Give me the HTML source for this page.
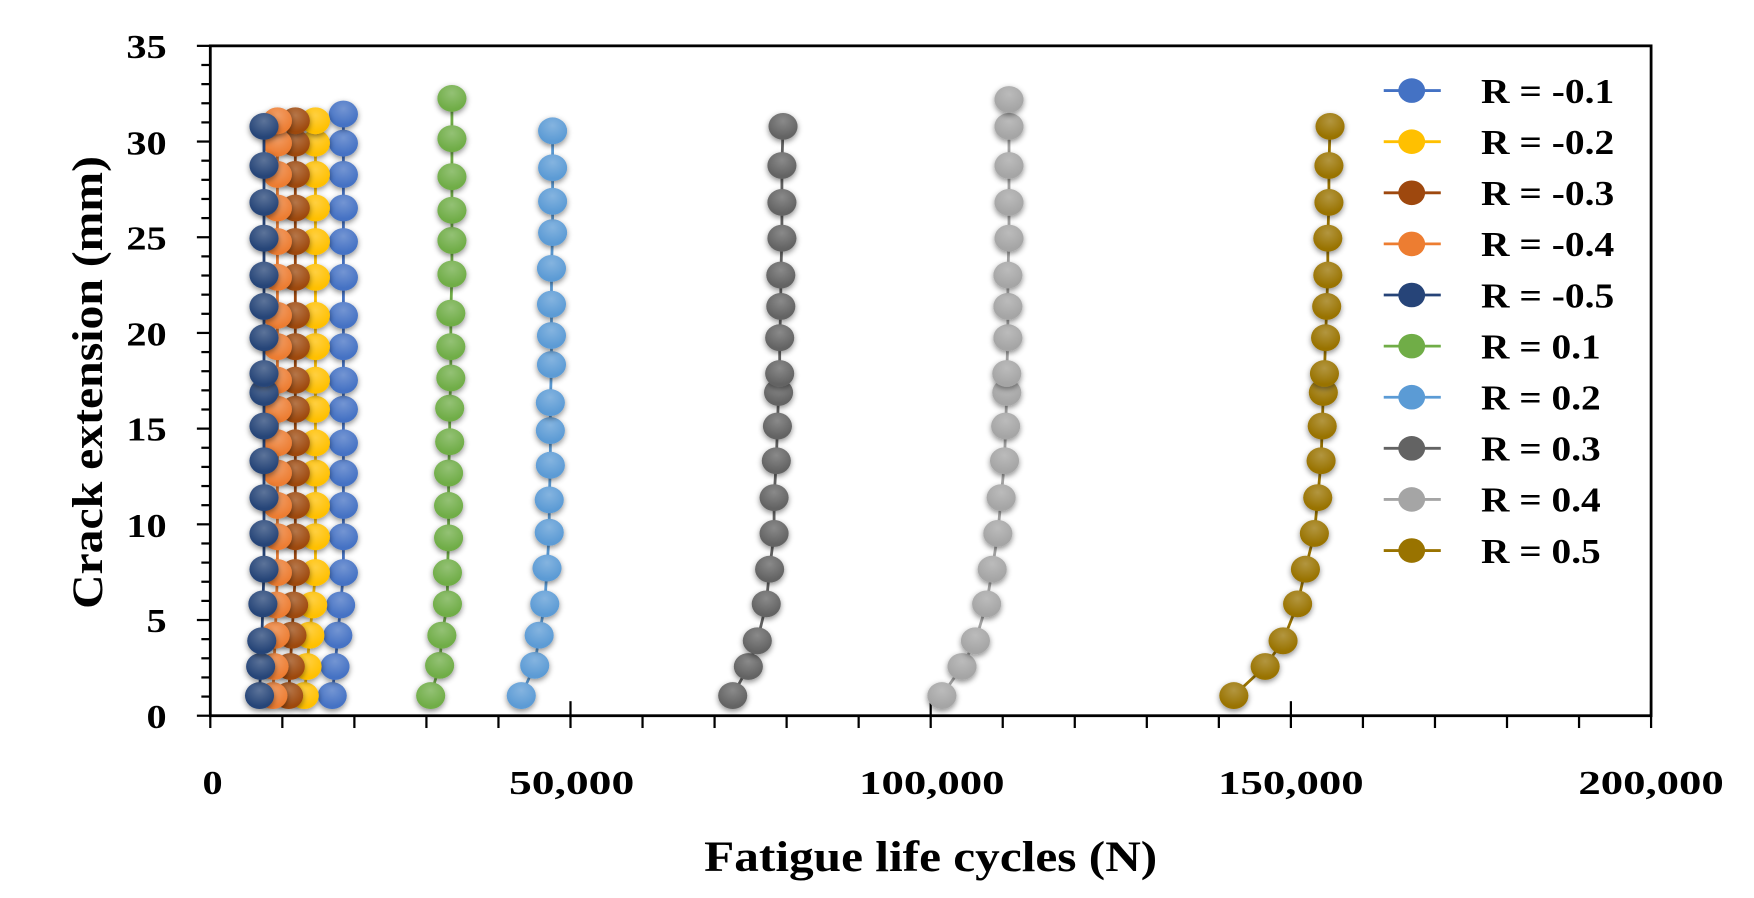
<!DOCTYPE html>
<html><head><meta charset="utf-8"><style>
html,body{margin:0;padding:0;background:#fff;}
svg{display:block;}
text{font-family:"Liberation Serif",serif;font-weight:bold;fill:#000;}
</style></head><body>
<svg id="s" width="1754" height="898" viewBox="0 0 1568 803" preserveAspectRatio="none" xmlns="http://www.w3.org/2000/svg">
<defs>
<filter id="sh" x="-50%" y="-50%" width="200%" height="200%"><feDropShadow dx="0" dy="2" stdDeviation="2.5" flood-color="#000" flood-opacity="0.45"/></filter>
<radialGradient id="hl" cx="50%" cy="30%" r="60%"><stop offset="0" stop-color="#fff" stop-opacity="0.25"/><stop offset="1" stop-color="#fff" stop-opacity="0"/></radialGradient>
</defs>
<rect x="188" y="41" width="1288" height="599" fill="none" stroke="#000" stroke-width="2.5"/>
<g id="ticks" stroke="#000" stroke-width="2"></g>
<g id="series"></g>
<g id="legend"></g>
<g font-size="30" text-anchor="end" lengthAdjust="spacingAndGlyphs">
<text x="149" y="651" textLength="18" lengthAdjust="spacingAndGlyphs">0</text>
<text x="149" y="565" textLength="18" lengthAdjust="spacingAndGlyphs">5</text>
<text x="149" y="480" textLength="36" lengthAdjust="spacingAndGlyphs">10</text>
<text x="149" y="394" textLength="36" lengthAdjust="spacingAndGlyphs">15</text>
<text x="149" y="309" textLength="36" lengthAdjust="spacingAndGlyphs">20</text>
<text x="149" y="223" textLength="36" lengthAdjust="spacingAndGlyphs">25</text>
<text x="149" y="138" textLength="36" lengthAdjust="spacingAndGlyphs">30</text>
<text x="149" y="52" textLength="36" lengthAdjust="spacingAndGlyphs">35</text>
</g>
<g font-size="30" text-anchor="middle">
<text x="190" y="710" textLength="18" lengthAdjust="spacingAndGlyphs">0</text>
<text x="511" y="710" textLength="112" lengthAdjust="spacingAndGlyphs">50,000</text>
<text x="833" y="710" textLength="130" lengthAdjust="spacingAndGlyphs">100,000</text>
<text x="1154" y="710" textLength="130" lengthAdjust="spacingAndGlyphs">150,000</text>
<text x="1476" y="710" textLength="130" lengthAdjust="spacingAndGlyphs">200,000</text>
</g>
<text x="832" y="779" font-size="39" text-anchor="middle" textLength="405" lengthAdjust="spacingAndGlyphs">Fatigue life cycles (N)</text>
<text transform="translate(91,342) rotate(-90)" font-size="39" text-anchor="middle" textLength="405" lengthAdjust="spacingAndGlyphs">Crack extension (mm)</text>
</svg>
<script>
var NS="http://www.w3.org/2000/svg";
function el(p,t,a){var e=document.createElementNS(NS,t);for(var k in a)e.setAttribute(k,a[k]);p.appendChild(e);return e;}
var tk=document.getElementById('ticks');
for(var i=0;i<=35;i++){var y=640-i*599/35;el(tk,'line',{x1:(i%5==0?176:180),x2:188,y1:y,y2:y});}
for(var i=0;i<=20;i++){var x=188+i*64.4;el(tk,'line',{x1:x,x2:x,y1:(i%5==0?627:640),y2:651});}
var Y0=[622,596,573,540,509,477,445,412,381,351,334,302,274,246,213,181,148,113];
var Y1=[622,595,568,540,512,481,452,423,395,365,338,310,280,245,215,188,158,124,88];
var Y2=[622,595,568,540,508,476,447,416,385,360,326,300,272,240,208,180,150,117];
var YL=[622,596,568,541,512,480,452,423,396,366,340,310,282,248,216,186,156,128,108];
function lin(ys,b,t){return ys.map(function(y,i){return [b+(t-b)*Math.min(1,i/4),y];});}
function pair(xs,ys){return xs.map(function(x,i){return [x,ys[i]];});}
var S=[
["#4472C4","R = -0.1",lin(YL.slice(0,18).concat([102]),297,307)],
["#FFC000","R = -0.2",lin(YL,272,282)],
["#9E480E","R = -0.3",lin(YL,258,264)],
["#ED7D31","R = -0.4",lin(YL,244,248)],
["#264478","R = -0.5",lin(Y0,232,236)],
["#70AD47","R = 0.1",pair([385,393,395,400,400,401,401,401,402,402,403,403,403,404,404,404,404,404,404],Y1)],
["#5B9BD5","R = 0.2",pair([466,478,482,487,489,491,491,492,492,492,493,493,493,493,494,494,494,494],Y2)],
["#636363","R = 0.3",pair([655,669,677,685,688,692,692,694,695,696,697,697,698,698,699,699,699,700],Y0)],
["#A5A5A5","R = 0.4",pair([842,860,872,882,887,892,895,898,899,900,900,901,901,901,902,902,902,902,902],Y0.concat([89]))],
["#997300","R = 0.5",pair([1103,1131,1147,1160,1167,1175,1178,1181,1182,1183,1184,1185,1186,1187,1187,1188,1188,1189],Y0)]
];
var sg=document.getElementById('series'),lg=document.getElementById('legend');
var order=[9,8,7,6,5,0,1,2,3,4];
order.forEach(function(k){var s=S[k];
 el(sg,'polyline',{points:s[2].map(function(p){return p.join(',')}).join(' '),fill:'none',stroke:s[0],'stroke-width':2.5});
 s[2].forEach(function(p){el(sg,'ellipse',{cx:p[0],cy:p[1],rx:13,ry:12,fill:s[0],filter:'url(#sh)'});el(sg,'ellipse',{cx:p[0],cy:p[1],rx:13,ry:12,fill:'url(#hl)'});});
});
S.forEach(function(s,i){var y=81+i*45.7;
 el(lg,'line',{x1:1237,x2:1288,y1:y,y2:y,stroke:s[0],'stroke-width':2.5});
 el(lg,'ellipse',{cx:1262,cy:y,rx:12,ry:11,fill:s[0]});
 var w=s[1].indexOf('-')>0?119:107;
 var t=el(lg,'text',{x:1324,y:y+11,'font-size':31,textLength:w,lengthAdjust:'spacingAndGlyphs'});t.textContent=s[1];
});
</script>
</body></html>
